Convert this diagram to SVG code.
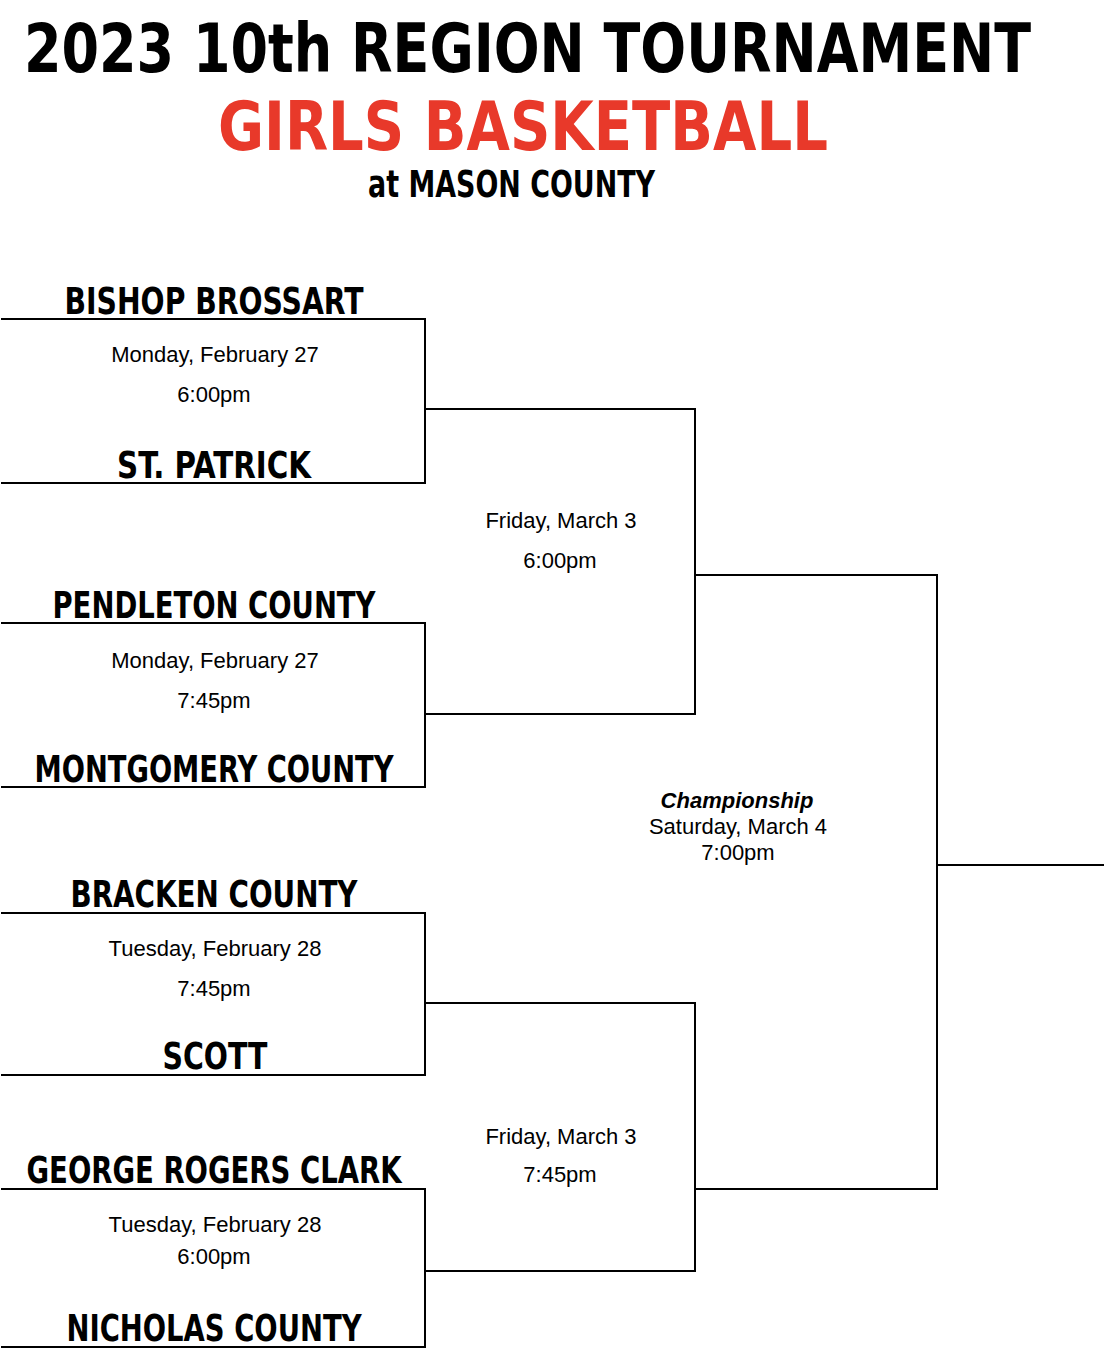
<svg xmlns="http://www.w3.org/2000/svg" width="1108" height="1366" viewBox="0 0 1108 1366">
<style>
.bg{fill:#fff}
.ln{fill:none;stroke:#000;stroke-width:2;stroke-linecap:square}
.hd{font-family:"Liberation Sans Narrow","DejaVu Sans Condensed","Liberation Sans",sans-serif;font-weight:bold;fill:#000}
.tm{font-family:"Liberation Sans Narrow","DejaVu Sans Condensed","Liberation Sans",sans-serif;font-weight:bold;font-size:38px;fill:#000;text-anchor:middle}
.dt{font-family:"Liberation Sans",Arial,sans-serif;font-size:22px;fill:#000;text-anchor:middle}
.ch{font-family:"Liberation Sans",Arial,sans-serif;font-size:22px;font-weight:bold;font-style:italic;fill:#000;text-anchor:middle}
</style>
<rect class="bg" x="0" y="0" width="1108" height="1366"/>
<g id="title">
<text class="hd" x="24" y="72" font-size="63" transform="translate(0,72) scale(1,1.08) translate(0,-72)" textLength="1007" lengthAdjust="spacingAndGlyphs">2023 10th REGION TOURNAMENT</text>
<text class="hd" x="218" y="150" font-size="68" style="fill:#E8392A" textLength="610" lengthAdjust="spacingAndGlyphs">GIRLS BASKETBALL</text>
<text class="hd" x="368" y="197" font-size="38" textLength="287" lengthAdjust="spacingAndGlyphs">at MASON COUNTY</text>
</g>
<g id="connectors">
<polyline class="ln" points="2,319 425,319 425,483 2,483"/>
<polyline class="ln" points="2,623 425,623 425,787 2,787"/>
<polyline class="ln" points="2,913 425,913 425,1075 2,1075"/>
<polyline class="ln" points="2,1189 425,1189 425,1347 2,1347"/>
<polyline class="ln" points="425,409 695,409 695,714 425,714"/>
<polyline class="ln" points="425,1003 695,1003 695,1271 425,1271"/>
<polyline class="ln" points="695,575 937,575 937,1189 695,1189"/>
<line class="ln" x1="937" y1="865" x2="1103" y2="865"/>
</g>
<g id="game1">
<text class="tm" x="214" y="314" textLength="299" lengthAdjust="spacingAndGlyphs">BISHOP BROSSART</text>
<text class="dt" x="215" y="362">Monday, February 27</text>
<text class="dt" x="214" y="402">6:00pm</text>
<text class="tm" x="214" y="478" textLength="194" lengthAdjust="spacingAndGlyphs">ST. PATRICK</text>
</g>
<g id="game2">
<text class="tm" x="214" y="618" textLength="323" lengthAdjust="spacingAndGlyphs">PENDLETON COUNTY</text>
<text class="dt" x="215" y="668">Monday, February 27</text>
<text class="dt" x="214" y="708">7:45pm</text>
<text class="tm" x="214" y="782" textLength="359" lengthAdjust="spacingAndGlyphs">MONTGOMERY COUNTY</text>
</g>
<g id="game3">
<text class="tm" x="214" y="907" textLength="287" lengthAdjust="spacingAndGlyphs">BRACKEN COUNTY</text>
<text class="dt" x="215" y="956">Tuesday, February 28</text>
<text class="dt" x="214" y="996">7:45pm</text>
<text class="tm" x="215" y="1069" textLength="105" lengthAdjust="spacingAndGlyphs">SCOTT</text>
</g>
<g id="game4">
<text class="tm" x="214" y="1183" textLength="375" lengthAdjust="spacingAndGlyphs">GEORGE ROGERS CLARK</text>
<text class="dt" x="215" y="1232">Tuesday, February 28</text>
<text class="dt" x="214" y="1264">6:00pm</text>
<text class="tm" x="214" y="1341" textLength="295" lengthAdjust="spacingAndGlyphs">NICHOLAS COUNTY</text>
</g>
<g id="semi1">
<text class="dt" x="561" y="528">Friday, March 3</text>
<text class="dt" x="560" y="568">6:00pm</text>
</g>
<g id="semi2">
<text class="dt" x="561" y="1144">Friday, March 3</text>
<text class="dt" x="560" y="1182">7:45pm</text>
</g>
<g id="final">
<text class="ch" x="737" y="808">Championship</text>
<text class="dt" x="738" y="834">Saturday, March 4</text>
<text class="dt" x="738" y="860">7:00pm</text>
</g>
</svg>
